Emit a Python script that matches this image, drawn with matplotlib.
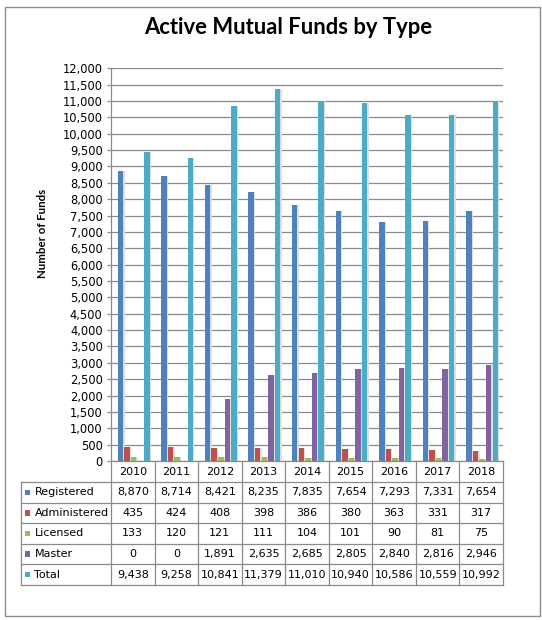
import matplotlib
matplotlib.use("Agg")
import matplotlib.pyplot as plt
from matplotlib.lines import Line2D
from matplotlib.patches import Rectangle
from matplotlib.ticker import FuncFormatter, MultipleLocator

years = ["2010", "2011", "2012", "2013", "2014", "2015", "2016", "2017", "2018"]
series_names = ["Registered", "Administered", "Licensed", "Master", "Total"]
registered = [8870, 8714, 8421, 8235, 7835, 7654, 7293, 7331, 7654]
administered = [435, 424, 408, 398, 386, 380, 363, 331, 317]
licensed = [133, 120, 121, 111, 104, 101, 90, 81, 75]
master = [0, 0, 1891, 2635, 2685, 2805, 2840, 2816, 2946]
total = [9438, 9258, 10841, 11379, 11010, 10940, 10586, 10559, 10992]
colors = ["#4F81BD", "#C0504D", "#9BBB59", "#8064A2", "#4BACC6"]
title = "Active Mutual Funds by Type"
ylabel = "Number of Funds"

series = [registered, administered, licensed, master, total]

W, H = 542, 620
fig = plt.figure(figsize=(W / 100, H / 100), dpi=100)
fig.patch.set_facecolor("white")


def fx(x):
    return x / W


def fy(y):
    return 1 - y / H


ax_l, ax_r, ax_t, ax_b = 111, 503, 68.3, 461
ax = fig.add_axes([fx(ax_l), fy(ax_b), (ax_r - ax_l) / W, (ax_b - ax_t) / H])

n = len(years)
step = 0.151
width = 0.126
grid_c = "#8a8a8a"
for i, (vals, c) in enumerate(zip(series, colors)):
    xs = [k + (i - 2) * step + 0.02 for k in range(n)]
    # soft shadow
    ax.bar([x + 0.03 for x in xs], vals, width=width, color="#dedede", zorder=2, linewidth=0)
    ax.bar(xs, vals, width=width, color=c, zorder=3, linewidth=0)

ax.set_xlim(-0.5, n - 0.5)
ax.set_ylim(0, 12000)
ax.yaxis.set_major_locator(MultipleLocator(500))
ax.yaxis.set_major_formatter(FuncFormatter(lambda v, p: f"{int(v):,}"))
ax.grid(axis="y", color=grid_c, linewidth=0.9, zorder=1)
ax.set_axisbelow(True)
ax.set_xticks([])
for s in ["top", "right"]:
    ax.spines[s].set_visible(False)
ax.spines["left"].set_color(grid_c)
ax.spines["bottom"].set_color(grid_c)
ax.spines["left"].set_linewidth(0.9)
ax.spines["bottom"].set_linewidth(0.9)
ax.tick_params(axis="y", length=3, width=0.9, color=grid_c, pad=3.0,
               labelsize=8.3, labelcolor="#000000")
for lab in ax.get_yticklabels():
    lab.set_family("DejaVu Sans")

# title & ylabel
fig.text(fx(288), fy(27), title, ha="center", va="center", fontsize=15.8,
         fontweight="bold", family="Lato")
fig.text(fx(42), fy(233), ylabel, ha="center", va="center", rotation=90,
         fontsize=8.3, fontweight="bold", family="Lato")

# data table
cw = (ax_r - ax_l) / n
col_x = [ax_l + cw * k for k in range(n + 1)]
label_l = 20.5
row_y = [461, 482, 502.6, 523.2, 543.8, 564.4, 585]
tc = "#8a8a8a"
lw = 0.9


def line(x0, y0, x1, y1):
    fig.add_artist(Line2D([fx(x0), fx(x1)], [fy(y0), fy(y1)], color=tc, linewidth=lw))


for y in row_y[1:]:
    line(label_l, y, ax_r, y)
line(label_l, row_y[1], label_l, row_y[-1])
for x in col_x:
    line(x, row_y[0], x, row_y[-1])

tfs = 8.0
for k, yr in enumerate(years):
    fig.text(fx(col_x[k] + cw / 2), fy((row_y[0] + row_y[1]) / 2 + 0.5), yr,
             ha="center", va="center", fontsize=tfs, family="DejaVu Sans")

for r, (name, vals, c) in enumerate(zip(series_names, series, colors)):
    yc = (row_y[r + 1] + row_y[r + 2]) / 2
    fig.add_artist(Rectangle((fx(25), fy(yc + 2.6)), 5.2 / W, 5.2 / H,
                             facecolor=c, edgecolor="none", transform=fig.transFigure))
    fig.text(fx(34.5), fy(yc), name, ha="left", va="center", fontsize=tfs,
             family="DejaVu Sans")
    for k, v in enumerate(vals):
        fig.text(fx(col_x[k] + cw / 2), fy(yc), f"{v:,}", ha="center", va="center",
                 fontsize=tfs, family="DejaVu Sans")

# outer border
fig.add_artist(Rectangle((fx(4.5), fy(616)), (540 - 4.5) / W, (616 - 6.5) / H,
                         facecolor="none", edgecolor="#8c8c8c", linewidth=1.0,
                         transform=fig.transFigure))

fig.savefig("out.png", dpi=100, facecolor="white")
